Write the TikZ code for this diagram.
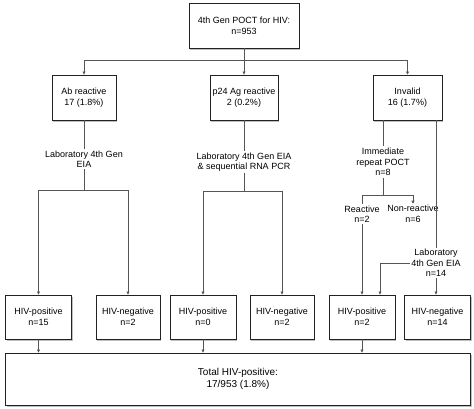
\documentclass[tikz,border=0pt]{standalone}
\usepackage{fontspec}
\setmainfont{Liberation Sans}
\usepackage{xcolor}
\usetikzlibrary{positioning,arrows.meta,calc,shadows}
\definecolor{flowline}{HTML}{555555}
\definecolor{flowedge}{HTML}{222222}
\tikzset{
  box/.style    ={draw=flowedge, line width=0.9pt, fill=white, align=center,
                  inner sep=0pt, minimum height=44pt,
                  font=\fontsize{9}{11}\selectfont,
                  drop shadow={shadow xshift=1.3pt, shadow yshift=-1.8pt,
                               opacity=0.5}},
  topbox/.style ={box, minimum width=110pt, minimum height=45pt},
  midbox/.style ={box, minimum width=66pt, minimum height=45pt},
  endbox/.style ={box, minimum width=65pt},
  totbox/.style ={box, minimum width=465pt, minimum height=52pt,
                  font=\fontsize{10}{12}\selectfont},
  step label/.style={align=center, inner sep=1.5pt, fill=white,
                  font=\fontsize{9}{10.5}\selectfont},
  link/.style   ={draw=flowline, line width=0.65pt},
  arr/.style    ={link, -{Triangle[length=3pt, width=3pt]}},
}

\begin{document}
\begin{tikzpicture}[x=1pt, y=-1pt]
  \useasboundingbox (0,0) rectangle (474,409);

  % first test
  \node[topbox] (poct) at (244,25.5) {4th Gen POCT for HIV:\\n=953};

  \node[midbox, minimum width=64pt] (ab)  at (84,97.5)  {Ab reactive\\17 (1.8\%)};
  \node[midbox, minimum width=68pt] (p24) at (244,97.5) {p24 Ag reactive\\2 (0.2\%)};
  \node[midbox, minimum width=69pt] (inv) at (407.5,97.5) {Invalid\\16 (1.7\%)};

  \coordinate (split) at (244,60);
  \draw[link] (poct.south) -- (split);
  \draw[arr] (split) -| (ab.north);
  \draw[arr] (split) -- (p24.north);
  \draw[arr] (split) -| (inv.north);

  % outcomes
  \node[endbox, minimum width=66pt] (pos1) at (38.5,317) {HIV-positive\\n=15};
  \node[endbox, minimum width=64pt] (neg1) at (128,317)  {HIV-negative\\n=2};
  \node[endbox, minimum width=66pt] (pos2) at (203,317)  {HIV-positive\\n=0};
  \node[endbox, minimum width=64pt] (neg2) at (282,317)  {HIV-negative\\n=2};
  \node[endbox, minimum width=66pt] (pos3) at (362,317)  {HIV-positive\\n=2};
  \node[endbox, minimum width=66pt] (neg3) at (437.5,317) {HIV-negative\\n=14};

  \node[totbox] (total) at (238,379) {Total HIV-positive:\\17/953 (1.8\%)};

  % Ab reactive branch
  \node[step label] (eia1) at (84,159) {Laboratory 4th Gen\\EIA};
  \draw[link] (ab.south) -- (eia1.north);
  \coordinate (abfork) at (84,190);
  \draw[link] (eia1.south) -- (abfork);
  \draw[arr] (abfork) -| (pos1.north);
  \draw[arr] (abfork) -| (neg1.north);

  % p24 branch
  \node[step label] (eia2) at (244,162) {Laboratory 4th Gen EIA\\\& sequential RNA PCR};
  \draw[link] (p24.south) -- (eia2.north);
  \coordinate (pfork) at (244,191);
  \draw[link] (eia2.south) -- (pfork);
  \draw[arr] (pfork) -| (pos2.north);
  \draw[arr] (pfork) -| (neg2.north);

  % invalid branch
  \node[step label] (rep) at (383,162) {Immediate\\repeat POCT\\n=8};
  \node[step label] (reac)  at (362,214) {Reactive\\n=2};
  \node[step label] (nreac) at (413,214) {Non-reactive\\n=6};
  \node[step label] (eia3)  at (436,263) {Laboratory\\4th Gen EIA\\n=14};

  \draw[link] (inv.south -| rep.north) -- (rep.north);
  \coordinate (ifork) at (383,195);
  \draw[link] (rep.south) -- (ifork);
  \draw[link] (ifork) -| (reac.north);
  \draw[arr] (ifork) -| (nreac.north);
  \draw[arr] (reac.south) -- (pos3.north -| reac.south);

  \draw[link] (inv.south -| eia3.north) -- (eia3.north);
  \draw[arr] (eia3.south) -- (neg3.north -| eia3.south);
  \draw[arr] (eia3.west) -| ($(pos3.north)+(18,0)$);

  % into the total
  \draw[arr] (pos1.south) -- (pos1.south |- total.north);
  \draw[arr] (pos2.south) -- (pos2.south |- total.north);
  \draw[arr] (pos3.south) -- (pos3.south |- total.north);
\end{tikzpicture}
\end{document}
